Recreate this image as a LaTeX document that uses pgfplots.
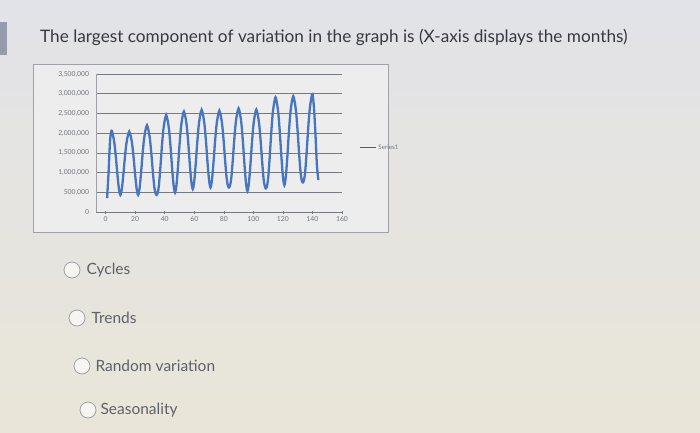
\documentclass[border=0pt]{standalone}
\usepackage{fontspec}
\setmainfont{Lato}
\usepackage{pgfplots}
\pgfplotsset{compat=1.18}
\usepackage{pgfplotstable}

\definecolor{bgtop}{RGB}{226,227,232}
\definecolor{bgbot}{RGB}{233,229,216}
\definecolor{chartbg}{RGB}{237,237,237}
\definecolor{framegray}{RGB}{160,162,168}
\definecolor{gridgray}{RGB}{120,122,130}
\definecolor{tickgray}{RGB}{115,117,125}
\definecolor{titlegray}{RGB}{55,57,64}
\definecolor{optgray}{RGB}{95,97,104}
\definecolor{series}{RGB}{72,118,190}
\definecolor{sidebar}{RGB}{150,156,172}

% monthly values, 144 months
\pgfplotstableread{
x y
1 350000
2 1000000
3 1800000
4 2060000
5 1946000
6 1734000
7 1375000
8 952000
9 593000
10 430000
11 591000
12 945000
13 1364000
14 1718000
15 1927000
16 2040000
17 1927000
18 1718000
19 1364000
20 945000
21 591000
22 430000
23 607000
24 996000
25 1457000
26 1846000
27 2076000
28 2200000
29 2078000
30 1850000
31 1465000
32 1010000
33 625000
34 450000
35 455000
36 651000
37 1093000
38 1616000
39 2058000
40 2319000
41 2460000
42 2322000
43 2066000
44 1633000
45 1120000
46 687000
47 490000
48 696000
49 1149000
50 1685000
51 2138000
52 2406000
53 2550000
54 2412000
55 2156000
56 1723000
57 1210000
58 777000
59 580000
60 781000
61 1223000
62 1746000
63 2188000
64 2449000
65 2590000
66 2452000
67 2196000
68 1763000
69 1250000
70 817000
71 620000
72 815000
73 1244000
74 1751000
75 2180000
76 2434000
77 2570000
78 2435000
79 2184000
80 1759000
81 1258000
82 833000
83 640000
84 645000
85 839000
86 1277000
87 1794000
88 2232000
89 2491000
90 2630000
91 2483000
92 2210000
93 1748000
94 1202000
95 740000
96 530000
97 737000
98 1192000
99 1731000
100 2186000
101 2455000
102 2600000
103 2461000
104 2204000
105 1768000
106 1254000
107 818000
108 620000
109 625000
110 849000
111 1353000
112 1948000
113 2452000
114 2750000
115 2910000
116 2754000
117 2464000
118 1973000
119 1394000
120 903000
121 680000
122 906000
123 1403000
124 1991000
125 2488000
126 2782000
127 2940000
128 2788000
129 2506000
130 2029000
131 1464000
132 987000
133 770000
134 775000
135 992000
136 1480000
137 2058000
138 2546000
139 2835000
140 2990000
141 2650000
142 2000000
143 1200000
144 810000
}\monthly

\begin{document}
\begin{tikzpicture}[x=1pt,y=1pt]
% page
\shade[top color=bgtop, bottom color=bgbot] (0,0) rectangle (700,432);
\fill[sidebar] (0,377) rectangle (7,410);

% question
\node[anchor=base west, inner sep=0pt, text=titlegray,
      font=\fontsize{17.2}{20}\selectfont] at (40,389)
  {The largest component of variation in the graph is (X-axis displays the months)};

% chart frame
\draw[framegray, line width=0.8pt, fill=chartbg] (33,200) rectangle (388,368);
\coordinate (plotorigin) at (96,220);

\begin{axis}[
    at={(plotorigin)}, anchor=south west,
    scale only axis, width=246pt, height=138pt,
    xmin=-6.5, xmax=160, ymin=0, ymax=3500000,
    xtick={0,20,...,160},
    ytick={0,500000,...,3500000},
    scaled y ticks=false,
    axis x line=bottom, axis y line=left,
    x axis line style={-, gridgray, line width=0.6pt},
    y axis line style={-, gridgray!70, line width=0.6pt},
    ymajorgrids,
    grid style={gridgray, line width=0.7pt},
    major tick length=3pt,
    xtick style={gridgray, line width=0.6pt},
    ytick style={draw=none},
    tick label style={text=tickgray, font=\fontsize{6.8}{7}\selectfont},
    /pgf/number format/.cd, fixed, 1000 sep={,}, assume math mode=true,
    /pgfplots/.cd,
    yticklabel style={xshift=-2pt},
    clip=false,
    legend style={at={(1.07,0.464)}, anchor=west, draw=none, fill=none,
                  font=\fontsize{6.2}{7}\selectfont, text=tickgray,
                  inner sep=0pt, row sep=0pt},
    legend image code/.code={\draw[series!80!black, line width=1pt] (0pt,0pt) -- (16pt,0pt);},
  ]
  \addplot[series, line width=2.3pt, smooth, tension=0.5] table[x=x, y=y] {\monthly};
  \addlegendentry{Series1}
\end{axis}

% answer options
\tikzset{opt/.style={draw=framegray, line width=0.8pt, fill=white!60!bgbot}}
\draw[opt] (72,162) circle (8);
\node[anchor=west, text=optgray, font=\fontsize{15.5}{18}\selectfont] at (83,162) {Cycles};
\draw[opt] (77,114) circle (8);
\node[anchor=west, text=optgray, font=\fontsize{15.5}{18}\selectfont] at (88,114) {Trends};
\draw[opt] (82,66) circle (8);
\node[anchor=west, text=optgray, font=\fontsize{15.5}{18}\selectfont] at (92,66) {Random variation};
\draw[opt] (88,22) circle (8);
\node[anchor=west, text=optgray, font=\fontsize{15.5}{18}\selectfont] at (97,22) {Seasonality};
\end{tikzpicture}
\end{document}
